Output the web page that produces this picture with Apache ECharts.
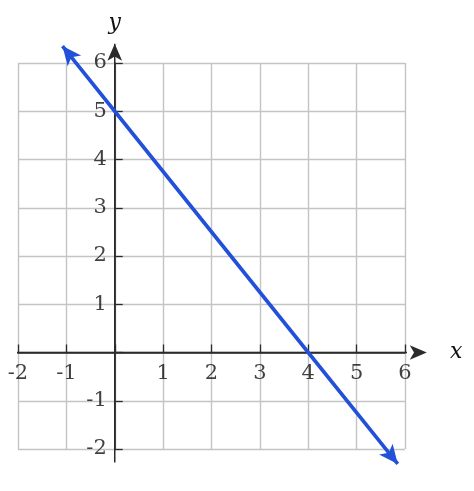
<!DOCTYPE html>
<html>
<head>
<meta charset="utf-8">
<script src="https://cdn.jsdelivr.net/npm/echarts@6/dist/echarts.min.js"></script>
<style>
html,body{margin:0;padding:0;background:#fff;}
#c{width:474px;height:491px;}
</style>
</head>
<body>
<div id="c"></div>
<script>
// Axis ranges / ticks
var xRange = [-2, 6];
var yRange = [-2, 6];
var tickStep = 1;
var xTickLabels = [-2, -1, 1, 2, 3, 4, 5, 6];
var yTickLabels = [-2, -1, 1, 2, 3, 4, 5, 6];
// Plotted line y = 5 - 1.25x (arrow ends and intercepts)
var lineX = [-1.08, 0, 4, 5.85];
var lineY = [6.35, 5, 0, -2.31];
// Axis line extents (start, arrow centre)
var xAxisExtent = [-2.3, 6.45];
var yAxisExtent = [-2.28, 6.4];

var fontFamily = '"DejaVu Serif", "Liberation Serif", serif';
var axisColor = '#2b2b2b';
var textColor = '#111111';
var lineColor = '#2350d9';

var chart = echarts.init(document.getElementById('c'), null, {renderer: 'canvas'});

function axisCfg(range, isX) {
  return {
    type: 'value',
    min: range[0],
    max: range[1],
    interval: tickStep,
    name: isX ? 'x' : 'y',
    nameLocation: 'end',
    nameGap: isX ? 45 : 29,
    nameTextStyle: {fontFamily: fontFamily, fontStyle: 'italic', fontSize: 22, color: textColor},
    axisLine: {show: true, onZero: true, lineStyle: {color: axisColor, width: 1.5}},
    axisTick: {show: true, inside: true, length: 8, lineStyle: {color: axisColor, width: 1.3}},
    axisLabel: {show: false},
    splitLine: {show: true, showMinLine: true, showMaxLine: true, lineStyle: {color: '#c4c4c4', width: 1.4}}
  };
}

function buildLineData() {
  return lineX.map(function (x, i) { return [x, lineY[i]]; });
}

var labelStyle = {fontFamily: fontFamily, fontSize: 21, color: textColor};

var option = {
  animation: false,
  backgroundColor: '#fff',
  grid: {left: 18, top: 63, width: 387, height: 386, containLabel: false, outerBoundsMode: 'none'},
  xAxis: axisCfg(xRange, true),
  yAxis: axisCfg(yRange, false),
  series: [
    {
      type: 'line', clip: false, silent: true,
      data: [
        {value: [xAxisExtent[0], 0], symbol: 'none'},
        {value: [xAxisExtent[1], 0], symbol: 'arrow', symbolSize: [11, 17], symbolRotate: -90}
      ],
      lineStyle: {color: axisColor, width: 1.5},
      itemStyle: {color: axisColor},
      z: 3
    },
    {
      type: 'line', clip: false, silent: true,
      data: [
        {value: [0, yAxisExtent[0]], symbol: 'none'},
        {value: [0, yAxisExtent[1]], symbol: 'arrow', symbolSize: [11, 17], symbolRotate: 0}
      ],
      lineStyle: {color: axisColor, width: 1.5},
      itemStyle: {color: axisColor},
      z: 3
    },
    {
      type: 'line', clip: false, silent: true,
      data: buildLineData(),
      symbol: 'none',
      lineStyle: {color: lineColor, width: 3.6},
      itemStyle: {color: lineColor},
      z: 5
    },
    {
      type: 'scatter', silent: true, clip: false,
      symbolSize: 0,
      data: xTickLabels.map(function (v) { return [v, 0]; }),
      label: Object.assign({show: true, position: 'bottom', distance: 11,
        formatter: function (p) { return String(p.value[0]); }}, labelStyle),
      z: 4
    },
    {
      type: 'scatter', silent: true, clip: false,
      symbolSize: 0,
      data: yTickLabels.map(function (v) { return [0, v]; }),
      label: Object.assign({show: true, position: 'left', distance: 8,
        formatter: function (p) { return String(p.value[1]); }}, labelStyle),
      z: 4
    }
  ]
};
chart.setOption(option);

// Orient the arrowheads of the plotted line along it, using the chart's own scale
var pts = buildLineData();
var p0 = chart.convertToPixel({gridIndex: 0}, pts[0]);
var p1 = chart.convertToPixel({gridIndex: 0}, pts[pts.length - 1]);
var ang = Math.atan2(p1[1] - p0[1], p1[0] - p0[0]); // screen angle
var rotEnd = -(ang * 180 / Math.PI) - 90;   // arrow default points up
var rotStart = rotEnd + 180;
var data = pts.map(function (p, i) {
  if (i === 0) return {value: p, symbol: 'arrow', symbolSize: [13, 19], symbolRotate: rotStart};
  if (i === pts.length - 1) return {value: p, symbol: 'arrow', symbolSize: [13, 19], symbolRotate: rotEnd};
  return {value: p, symbol: 'none'};
});
chart.setOption({series: [{}, {}, {data: data, symbol: 'none'}, {}, {}]});
</script>
</body>
</html>
